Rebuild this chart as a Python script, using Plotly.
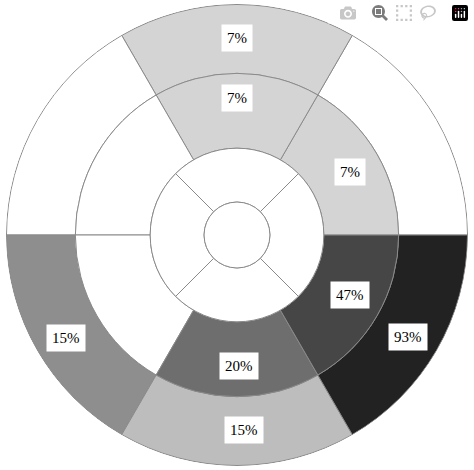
import numpy as np
import plotly.graph_objects as go

# ring radii (outer edge of each ring)
ring_edges = [0, 33, 87, 162, 231]

# basal (outer) ring: 6 segments, centres in degrees (0 = right, counter-clockwise)
basal_theta = [30, 90, 150, 210, 270, 330]
basal_colors = ["#ffffff", "#d4d4d4", "#ffffff", "#8e8e8e", "#bdbdbd", "#222222"]

mid_theta = [30, 90, 150, 210, 270, 330]
mid_colors = ["#d4d4d4", "#d4d4d4", "#ffffff", "#ffffff", "#6e6e6e", "#464646"]

apical_theta = [0, 90, 180, 270]
apical_colors = ["#ffffff"] * 4

# label positions (radius, angle)
label_pos = [
    (197, 90, "7%"), (137, 90, "7%"), (129, 29, "7%"), (128, -28, "47%"),
    (199, -31, "93%"), (131, -89, "20%"), (195, -88, "15%"), (200, -149, "15%"),
]

line = dict(color="#8a8a8a", width=1)
fig = go.Figure()
fig.add_trace(go.Barpolar(theta=basal_theta, r=[ring_edges[4] - ring_edges[3]] * 6,
                          base=ring_edges[3], width=60, marker=dict(color=basal_colors, line=line)))
fig.add_trace(go.Barpolar(theta=mid_theta, r=[ring_edges[3] - ring_edges[2]] * 6,
                          base=ring_edges[2], width=60, marker=dict(color=mid_colors, line=line)))
fig.add_trace(go.Barpolar(theta=apical_theta, r=[ring_edges[2] - ring_edges[1]] * 4,
                          base=ring_edges[1], width=90, marker=dict(color=apical_colors, line=line)))
fig.add_trace(go.Barpolar(theta=[0], r=[ring_edges[1]], base=0, width=360,
                          marker=dict(color="#ffffff", line=line)))

R = ring_edges[-1]
for r, a, t in label_pos:
    fig.add_annotation(
        x=(r * np.cos(np.radians(a)) + R) / (2 * R),
        y=(r * np.sin(np.radians(a)) + R) / (2 * R),
        xref="paper", yref="paper", xanchor="center", yanchor="middle",
        text=t, showarrow=False, bgcolor="white", borderpad=5,
        font=dict(family="Liberation Serif", size=15, color="black"),
    )

fig.update_layout(
    width=474, height=470, margin=dict(l=6, r=6, t=4, b=4),
    paper_bgcolor="white", showlegend=False, barmode="overlay",
    polar=dict(
        bgcolor="white", hole=0,
        radialaxis=dict(range=[0, R + 0.5], visible=False),
        angularaxis=dict(visible=False, direction="counterclockwise", rotation=0),
    ),
)
fig.write_html("out.html", post_script="document.body.style.margin='0';")
